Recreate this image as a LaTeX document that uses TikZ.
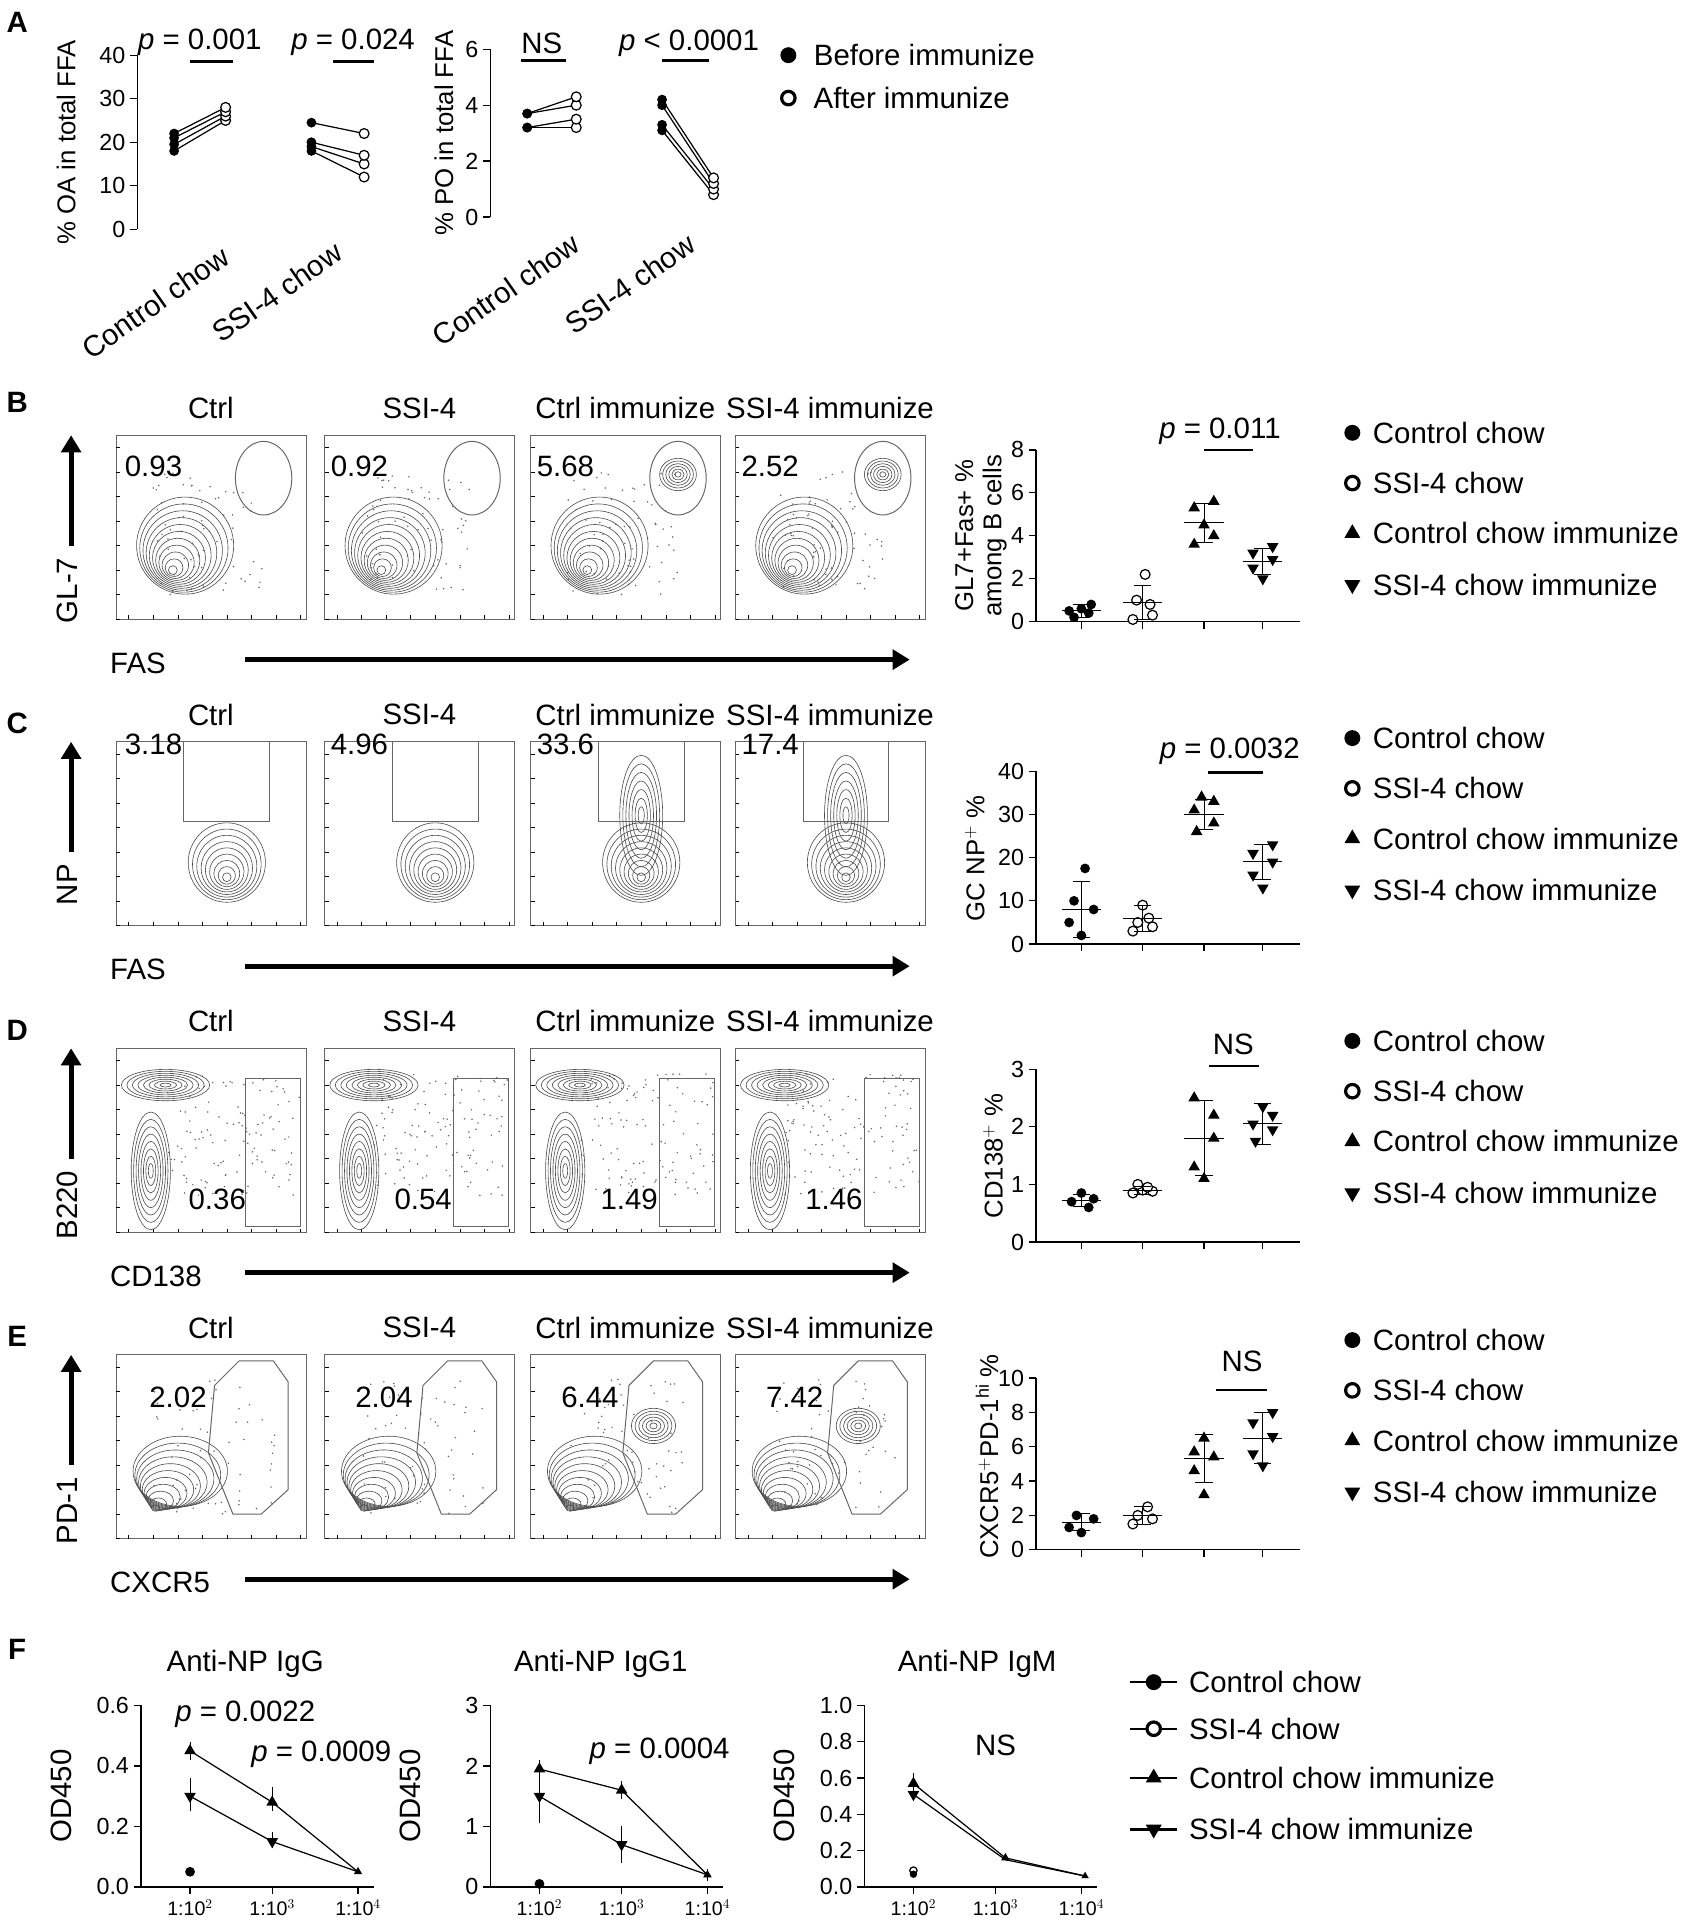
\documentclass[tikz,border=0pt]{standalone}
\usepackage{fontspec}
\setmainfont{Liberation Sans}
\usetikzlibrary{shapes.geometric, arrows.meta, positioning}
\tikzset{
  dot/.style = {circle, fill, inner sep = 0, minimum size = 13pt},
  odot/.style = {circle, draw, line width = 2.6pt, fill = white, inner sep = 0, minimum size = 11pt},
  sdot/.style = {circle, fill, inner sep = 0, minimum size = 8pt},
  sodot/.style = {circle, draw, line width = 1pt, fill = white, inner sep = 0, minimum size = 8pt},
  tri/.style = {regular polygon, regular polygon sides = 3, fill, inner sep = 0, minimum size = 15pt},
  dtri/.style = {tri, shape border rotate = 180},
  tick/.style = {font = \fontsize{19}{22}\selectfont},
  lab/.style = {font = \fontsize{24}{28}\selectfont},
  ylab/.style = {font = \fontsize{21}{23}\selectfont, rotate = 90},
  letter/.style = {font = \fontsize{24}{28}\selectfont\bfseries},
  flow/.style = {draw = black!60, line width = 0.8pt},
  cont/.style = {draw = black!70, line width = 0.5pt},
  bigarrow/.style = {line width = 4pt, -{Triangle[length = 14pt, width = 16pt]}},
  bar/.style = {line width = 2pt}
}
\newcommand{\pv}{\textit{p}}
% mean and SD bar
\newcommand{\msd}[3]{\draw[line width = 0.8pt] (#1-16,#2) -- (#1+16,#2)
  (#1,#2-#3) -- (#1,#2+#3) (#1-7,#2-#3) -- (#1+7,#2-#3) (#1-7,#2+#3) -- (#1+7,#2+#3);}
\begin{document}
\begin{tikzpicture}[x = 1pt, y = -1pt, line width = 1pt]
\useasboundingbox (0,0) rectangle (1385,1566);
% panel letters
\node[letter] (lA) at (14,18) {A};
\node[letter] (lB) at (14,328) {B};
\node[letter] (lC) at (14,590) {C};
\node[letter] (lD) at (14,840) {D};
\node[letter] (lE) at (14,1090) {E};
\node[letter] (lF) at (14,1345) {F};

% A: OA
\begin{scope}[shift = {(112,187)}, y = 3.55pt]
  \draw (0,0) -- (0,40);
  \foreach \t in {0,10,...,40} \draw (0,\t) -- ++(-6pt,0) node[tick, left] {\t};
  \node[ylab] (oay) at (-58,20) {\% OA in total FFA};
  \foreach \a/\b in {18/25, 19.5/26, 21/27, 22/28} {
    \draw (30,\a) -- (72,\b);
    \node[sdot] at (30,\a) {}; \node[sodot] at (72,\b) {};}
  \foreach \a/\b in {18/12, 19/15, 20/17, 24.5/22} {
    \draw (142,\a) -- (185,\b);
    \node[sdot] at (142,\a) {}; \node[sodot] at (185,\b) {};}
  \node[lab, rotate = 35, anchor = north east] (ac1) at (68,-2) {Control chow};
  \node[lab, rotate = 35, anchor = north east] (ac2) at (160,-1) {SSI-4 chow};
  \node[lab] (pa1) at (51,43) {\pv{} = 0.001};
  \draw[bar] (43,38.5) -- (78,38.5);
  \node[lab] (pa2) at (176,43) {\pv{} = 0.024};
  \draw[bar] (160,38.5) -- (193,38.5);
\end{scope}
% A: PO
\begin{scope}[shift = {(400,177)}, y = 22.8pt]
  \draw (0,0) -- (0,6);
  \foreach \t in {0,2,4,6} \draw (0,\t) -- ++(-6pt,0) node[tick, left] {\t};
  \node[ylab] (poy) at (-38,3) {\% PO in total FFA};
  \foreach \a/\b in {3.2/3.2, 3.2/3.5, 3.7/4, 3.7/4.3} {
    \draw (30,\a) -- (70,\b);
    \node[sdot] at (30,\a) {}; \node[sodot] at (70,\b) {};}
  \foreach \a/\b in {3.1/0.8, 3.3/1.0, 4/1.2, 4.2/1.4} {
    \draw (140,\a) -- (182,\b);
    \node[sdot] at (140,\a) {}; \node[sodot] at (182,\b) {};}
  \node[lab, rotate = 35, anchor = north east] (ac3) at (66,-0.3) {Control chow};
  \node[lab, rotate = 35, anchor = north east] (ac4) at (160,-0.3) {SSI-4 chow};
  \node[lab] (pa3) at (42,6.2) {NS};
  \draw[bar] (25,5.6) -- (62,5.6);
  \node[lab] (pa4) at (162,6.2) {\pv{} < 0.0001};
  \draw[bar] (140,5.6) -- (178,5.6);
\end{scope}
\node[dot] (la1) at (643,45) {};
\node[lab, right = 10pt of la1] {Before immunize};
\node[odot] (la2) at (643,80) {};
\node[lab, right = 10pt of la2] {After immunize};

% flow rows B-E
\pgfmathsetseed{7}
\foreach \top/\xl/\yl/\row in {355/FAS/GL-7/1, 605/FAS/NP/2, 855/CD138/B220/3, 1105/CXCR5/PD-1/4} {
  \foreach \lx/\ttl [count = \k] in {95/Ctrl, 265/SSI-4, 433/Ctrl immunize, 600/SSI-4 immunize} {
    \node[lab] at (\lx+77,\top-22) {\ttl};
    \begin{scope}[shift = {(\lx,\top)}]
      \draw[flow] (0,0) rectangle (155,150);
      \foreach \q in {10,30,...,150} {\draw[line width = 0.4pt] (\q,150) -- ++(0,-3); \draw[line width = 0.4pt] (0,\q) -- ++(3,0);}
      \begin{scope}
        \clip (0,0) rectangle (155,150);
        \ifcase\row\or
          \foreach \i in {1,...,70} \fill[black!60] ({30+90*rnd},{30+100*rnd}) circle (0.7);
          \foreach \r in {1,...,11} \draw[cont] (45+\r,112-2*\r) ellipse ({3.6*\r} and {3.6*\r});
          \ifnum\k>2 \foreach \r in {1,...,6} \draw[cont] (120,32) ellipse ({2.5*\r} and {2.2*\r}); \fi
          \draw[flow] (120,35) ellipse (23 and 30);
        \or
          \foreach \r in {1,...,9} \draw[cont] (90,112-1.5*\r) ellipse ({3.5*\r} and {3.6*\r});
          \ifnum\k>2 \foreach \r in {1,...,7} \draw[cont] (90,60) ellipse ({2.5*\r} and {7*\r}); \fi
          \draw[flow] (55,0) rectangle (125,65);
        \or
          \foreach \i in {1,...,120} \fill[black!60] ({40+110*rnd},{20+100*rnd}) circle (0.7);
          \foreach \r in {1,...,8} \draw[cont] (40,30) ellipse ({4.5*\r} and {1.6*\r});
          \foreach \r in {1,...,8} \draw[cont] (28,100) ellipse ({2*\r} and {6*\r});
          \draw[flow] (105,25) rectangle (150,145);
        \or
          \foreach \i in {1,...,60} \fill[black!60] ({30+100*rnd},{20+110*rnd}) circle (0.7);
          \foreach \r in {1,...,11} \draw[cont] (30+2*\r,128-3*\r) ellipse ({3.5*\r} and {2.6*\r});
          \ifnum\k>2 \foreach \r in {1,...,6} \draw[cont] (100,58) ellipse ({3*\r} and {2.4*\r}); \fi
          \draw[flow] (80,25) -- (100,5) -- (128,5) -- (140,22) -- (140,110) -- (118,130) -- (95,130) -- (75,80) -- cycle;
        \fi
      \end{scope}
    \end{scope}
  }
  \coordinate (va) at (58,\top+90);
  \coordinate (vb) at (58,\top);
  \draw[bigarrow] (va) -- (vb);
  \coordinate (ha) at (200,\top+183);
  \coordinate (hb) at (742,\top+183);
  \draw[bigarrow] (ha) -- (hb);
  \node[lab, rotate = 90, anchor = east] at (55,\top+96) {\yl};
  \node[lab, anchor = west] at (86,\top+186) {\xl};
}
% flow gate numbers
\foreach \v [count = \k] in {0.93, 0.92, 5.68, 2.52} \node[lab, anchor = west] at ({\k==1 ? 98 : (\k==2 ? 266 : (\k==3 ? 434 : 601))},380) {\v};
\foreach \v [count = \k] in {3.18, 4.96, 33.6, 17.4} \node[lab, anchor = west] at ({\k==1 ? 98 : (\k==2 ? 266 : (\k==3 ? 434 : 601))},607) {\v};
\foreach \v [count = \k] in {0.36, 0.54, 1.49, 1.46} \node[lab, anchor = west] at ({\k==1 ? 150 : (\k==2 ? 318 : (\k==3 ? 486 : 653))},978) {\v};
\foreach \v [count = \k] in {2.02, 2.04, 6.44, 7.42} \node[lab, anchor = west] at ({\k==1 ? 118 : (\k==2 ? 286 : (\k==3 ? 454 : 621))},1140) {\v};

% scatter plots
\foreach \bot/\sc/\mx/\st/\ymx in {507/17.5/8/2/8, 770/3.525/40/10/40, 1013/47/3/1/3, 1264/14/10/2/10} {
  \begin{scope}[shift = {(845,\bot)}, y = \sc pt]
    \draw (0,0) -- (0,\mx) (0,0) -- (215,0);
    \foreach \t in {0,\st,...,\ymx} \draw (0,\t) -- ++(-6pt,0) node[tick, left] {\t};
    \foreach \g in {37,87,137,185} \draw (\g,0) -- ++(0,-6pt);
  \end{scope}
}
\node[ylab, align = center] (sy1) at (800,437) {GL7+Fas+ \%\\among B cells};
\node[ylab] (sy2) at (795,700) {GC NP$^+$ \%};
\node[ylab] (sy3) at (810,943) {CD138$^+$ \%};
\node[ylab] (sy4) at (805,1188) {CXCR5$^+$PD-1$^{\mathrm{hi}}$ \%};
% B data
\begin{scope}[shift = {(845,507)}, y = 17.5pt]
  \foreach \v/\dx in {0.2/-6, 0.4/6, 0.5/-10, 0.8/8, 0.6/0} \node[sdot] at (37+\dx,\v) {};
  \foreach \v/\dx in {0.1/-8, 0.3/8, 1.0/-5, 0.8/6, 2.2/2} \node[sodot] at (87+\dx,\v) {};
  \foreach \v/\dx in {3.6/-8, 4/8, 4.5/0, 5.3/-8, 5.6/8} \node[tri, minimum size = 11pt] at (137+\dx,\v) {};
  \foreach \v/\dx in {2.0/0, 2.5/-8, 2.9/8, 3.2/-8, 3.5/8} \node[dtri, minimum size = 11pt] at (185+\dx,\v) {};
  \msd{37}{0.5}{0.3} \msd{87}{0.9}{0.8} \msd{137}{4.6}{0.9} \msd{185}{2.8}{0.6}
  \draw[bar] (137,8) -- (177,8);
  \node[lab] at (150,8.85) {\pv{} = 0.011};
\end{scope}
% C data
\begin{scope}[shift = {(845,770)}, y = 3.525pt]
  \foreach \v/\dx in {2/0, 5/-10, 8/10, 10/-6, 17.5/3} \node[sdot] at (37+\dx,\v) {};
  \foreach \v/\dx in {3/-8, 4/8, 5/-4, 6/5, 9/0} \node[sodot] at (87+\dx,\v) {};
  \foreach \v/\dx in {26/-6, 28/8, 31/-8, 33/8, 34/-2} \node[tri, minimum size = 11pt] at (137+\dx,\v) {};
  \foreach \v/\dx in {13/0, 16/-8, 19/8, 21/-8, 23/8} \node[dtri, minimum size = 11pt] at (185+\dx,\v) {};
  \msd{37}{8}{6.5} \msd{87}{6}{3} \msd{137}{30}{3.5} \msd{185}{19}{4}
  \draw[bar] (140,39.7) -- (185,39.7);
  \node[lab] at (158,44.5) {\pv{} = 0.0032};
\end{scope}
% D data
\begin{scope}[shift = {(845,1013)}, y = 47pt]
  \foreach \v/\dx in {0.6/6, 0.7/-8, 0.75/10, 0.85/0} \node[sdot] at (37+\dx,\v) {};
  \foreach \v/\dx in {0.85/-8, 0.88/8, 0.9/0, 0.95/4, 1.0/-4} \node[sodot] at (87+\dx,\v) {};
  \foreach \v/\dx in {1.1/0, 1.3/-8, 1.8/8, 2.2/8, 2.5/-8} \node[tri, minimum size = 11pt] at (137+\dx,\v) {};
  \foreach \v/\dx in {1.75/-6, 1.95/8, 2.05/-8, 2.2/8, 2.35/0} \node[dtri, minimum size = 11pt] at (185+\dx,\v) {};
  \msd{37}{0.72}{0.1} \msd{87}{0.9}{0.07} \msd{137}{1.8}{0.65} \msd{185}{2.05}{0.35}
  \draw[bar] (141,3.05) -- (182,3.05);
  \node[lab] at (161,3.43) {NS};
\end{scope}
% E data
\begin{scope}[shift = {(845,1264)}, y = 14pt]
  \foreach \v/\dx in {1/0, 1.3/-10, 1.8/10, 2/-4} \node[sdot] at (37+\dx,\v) {};
  \foreach \v/\dx in {1.5/-8, 1.8/8, 2.0/-4, 2.5/4} \node[sodot] at (87+\dx,\v) {};
  \foreach \v/\dx in {3.2/0, 4.6/-8, 5.4/8, 5.7/-8, 6.5/0} \node[tri, minimum size = 11pt] at (137+\dx,\v) {};
  \foreach \v/\dx in {4.9/0, 5.6/-8, 6.6/8, 7.4/-8, 8/8} \node[dtri, minimum size = 11pt] at (185+\dx,\v) {};
  \msd{37}{1.6}{0.5} \msd{87}{2}{0.5} \msd{137}{5.3}{1.4} \msd{185}{6.5}{1.5}
  \draw[bar] (147,9.3) -- (188,9.3);
  \node[lab] at (168,11) {NS};
\end{scope}
% legends B-E
\foreach \ly in {353, 602, 849, 1093} {
  \node[dot] (g1) at (1103,\ly) {};
  \node[lab, anchor = west] at (1116,\ly) {Control chow};
  \node[odot] (g2) at (1103,\ly+41) {};
  \node[lab, anchor = west] at (1116,\ly+41) {SSI-4 chow};
  \node[tri] (g3) at (1103,\ly+82) {};
  \node[lab, anchor = west] at (1116,\ly+82) {Control chow immunize};
  \node[dtri] (g4) at (1103,\ly+124) {};
  \node[lab, anchor = west] at (1116,\ly+124) {SSI-4 chow immunize};
}

% F
\foreach \ax/\ttl/\tx in {115/Anti-NP IgG/200, 400/Anti-NP IgG1/490, 705/Anti-NP IgM/797} {
  \node[lab] at (\tx,1357) {\ttl};
  \node[lab, rotate = 90] at (\ax-65,1465) {OD450};
  \draw (\ax,1391) -- (\ax,1539) -- (\ax+190,1539);
  \foreach \xx in {40,107,177} {
    \draw (\ax+\xx,1539) -- ++(0,6);
    \node[tick, font = \fontsize{16}{18}\selectfont] at (\ax+\xx,1556) {1:10$^{\pgfmathparse{int(\xx==40 ? 2 : (\xx==107 ? 3 : 4))}\pgfmathresult}$};}
}
\begin{scope}[shift = {(115,1539)}, y = 246.7pt]
  \foreach \t in {0.0,0.2,0.4,0.6} \draw (0,\t) -- ++(-6pt,0) node[tick, left] {\t};
  \draw[line width = 0.7pt] (40,0.42) -- (40,0.48) (107,0.25) -- (107,0.33) (40,0.25) -- (40,0.36) (107,0.13) -- (107,0.18);
  \draw (40,0.45) node[tri, minimum size = 11pt] {} -- (107,0.28) node[tri, minimum size = 11pt] {} -- (177,0.05) node[tri, minimum size = 8pt] {};
  \draw (40,0.3) node[dtri, minimum size = 11pt] {} -- (107,0.15) node[dtri, minimum size = 11pt] {} -- (177,0.05);
  \node[sdot] at (40,0.05) {};
  \node[lab] at (85,0.57) {\pv{} = 0.0022};
  \node[lab] at (147,0.44) {\pv{} = 0.0009};
\end{scope}
\begin{scope}[shift = {(400,1539)}, y = 49.3pt]
  \foreach \t in {0,1,2,3} \draw (0,\t) -- ++(-6pt,0) node[tick, left] {\t};
  \draw[line width = 0.7pt] (40,1.85) -- (40,2.1) (107,1.45) -- (107,1.75) (40,1.05) -- (40,1.95) (107,0.4) -- (107,1.0) (177,0.1) -- (177,0.3);
  \draw (40,1.95) node[tri, minimum size = 11pt] {} -- (107,1.6) node[tri, minimum size = 11pt] {} -- (177,0.2) node[tri, minimum size = 8pt] {};
  \draw (40,1.5) node[dtri, minimum size = 11pt] {} -- (107,0.7) node[dtri, minimum size = 11pt] {} -- (177,0.2);
  \node[sdot] at (40,0.05) {};
  \node[lab] at (138,2.25) {\pv{} = 0.0004};
\end{scope}
\begin{scope}[shift = {(705,1539)}, y = 148pt]
  \foreach \t in {0.0,0.2,0.4,0.6,0.8,1.0} \draw (0,\t) -- ++(-6pt,0) node[tick, left] {\t};
  \draw[line width = 0.7pt] (40,0.52) -- (40,0.63);
  \draw (40,0.57) node[tri, minimum size = 11pt] {} -- (115,0.16) node[tri, minimum size = 8pt] {} -- (180,0.06) node[tri, minimum size = 7pt] {};
  \draw (40,0.51) node[dtri, minimum size = 11pt] {} -- (115,0.15) -- (180,0.06);
  \node[sodot, minimum size = 6pt] at (40,0.09) {};
  \node[sdot, minimum size = 6pt] at (40,0.07) {};
  \node[lab] at (107,0.78) {NS};
\end{scope}
% legend F
\foreach \ly/\mk/\txt in {1372/dot/Control chow, 1410/odot/SSI-4 chow, 1450/tri/Control chow immunize, 1492/dtri/SSI-4 chow immunize} {
  \coordinate (fa) at (922,\ly);
  \coordinate (fb) at (960,\ly);
  \draw[line width = 2pt] (fa) -- (fb);
  \node[\mk] at (941,\ly) {};
  \node[lab, anchor = west] at (966,\ly) {\txt};
}
\end{tikzpicture}
\end{document}
